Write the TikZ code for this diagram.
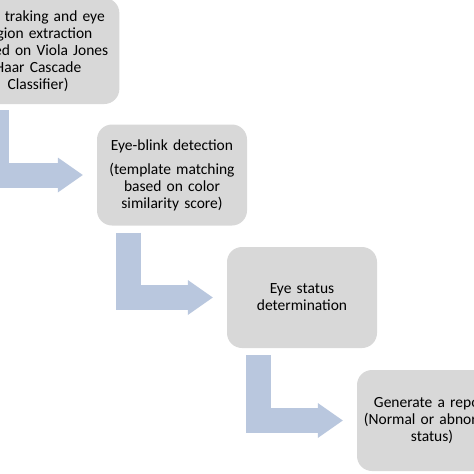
\documentclass[tikz,border=0pt]{standalone}
\usepackage{fontspec}
\setmainfont{Carlito}
\usetikzlibrary{arrows.meta}
\definecolor{boxgray}{RGB}{216,216,216}
\definecolor{flowblue}{RGB}{185,199,222}
\begin{document}
\begin{tikzpicture}
        [x=1pt, y=-1pt,
        stage/.style={rounded corners=15pt,fill=boxgray,minimum width=150pt,minimum height=101pt,
          text width=140pt,align=center,font=\fontsize{15.5}{17}\selectfont},
        arr/.style={draw=flowblue,line width=25pt,line join=miter,
          -{Triangle[length=25pt 0 0,width=35pt 0 0,line width=0pt 0 0]}}]
        \clip (0,0) rectangle (474,474);
        \node (1) at (38,51) [stage, text width=156pt, minimum width=160pt, minimum height=106pt]
          {Face traking and eye\\region extraction\\(based on Viola Jones\\Haar Cascade\\Classifier)};
        \node (2) at (172,175) [stage] {Eye-blink detection\\[7pt](template matching\\based on color\\similarity score)};
        \node (3) at (302,297.5) [stage] {Eye status\\determination};
        \node (4) at (432,420.5) [stage] {Generate a report\\(Normal or abnormal\\status)};
        \draw[arr] ([xshift=40.5pt,yshift=-6pt]1.south west) |- ([xshift=-14pt]2.west);
        \draw[arr] ([xshift=31.5pt,yshift=-7pt]2.south west) |- ([xshift=-14pt]3.west);
        \draw[arr] ([xshift=31.5pt,yshift=-7pt]3.south west) |- ([xshift=-14pt]4.west);
      \end{tikzpicture}
\end{document}
